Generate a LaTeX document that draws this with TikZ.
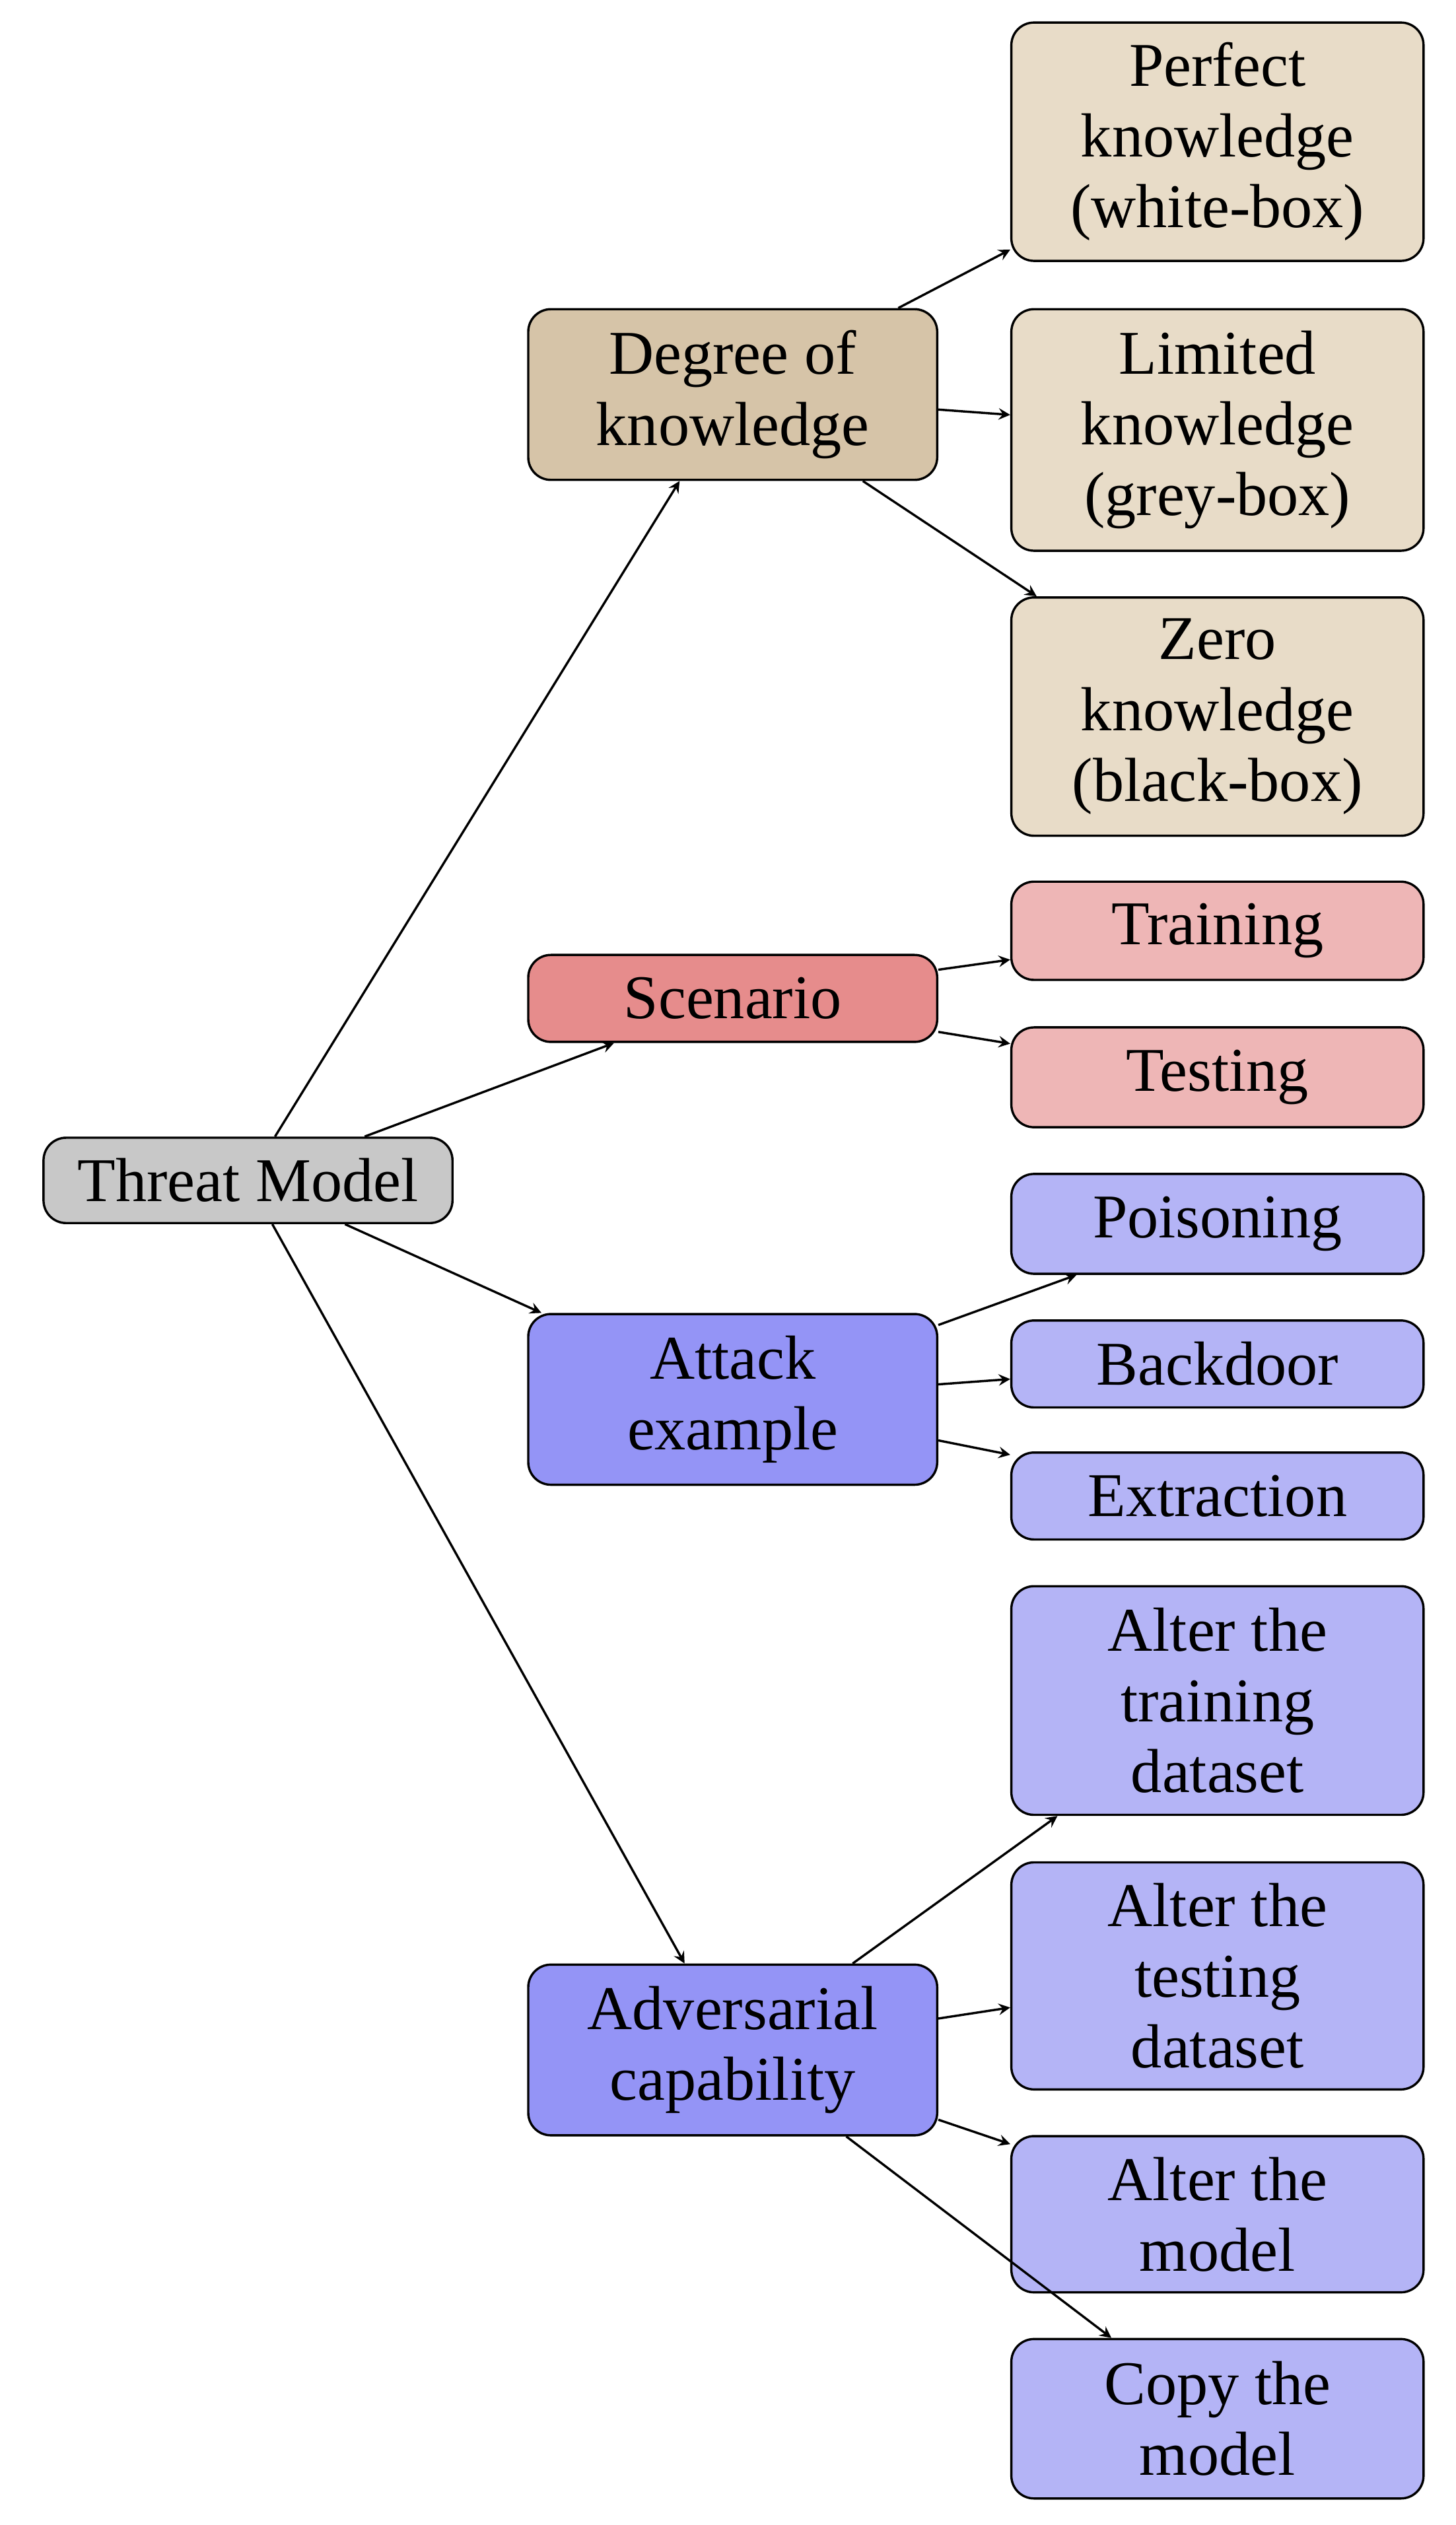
\documentclass[tikz,border=0pt]{standalone}
\usepackage{fontspec}
\setmainfont{Liberation Serif}
\begin{document}
\begin{tikzpicture}[x=0.02cm,y=-0.02cm,
  box/.style={draw=black,rounded corners=8pt,align=center,font=\fontsize{22}{25}\selectfont,inner sep=0pt,line width=0.8pt},
  mid/.style={box,minimum width=5.08cm},
  leaf/.style={box,minimum width=5.12cm},
  arr/.style={->,>=stealth,line width=0.8pt}]
\definecolor{tmc}{RGB}{200,200,200}
\definecolor{dkc}{RGB}{214,196,168}
\definecolor{dkl}{RGB}{232,220,200}
\definecolor{scc}{RGB}{230,140,140}
\definecolor{scl}{RGB}{238,182,182}
\definecolor{atc}{RGB}{148,148,246}
\definecolor{atl}{RGB}{180,180,246}
\useasboundingbox (0,0) rectangle (904,1568);
\node[box,fill=tmc,minimum width=5.08cm,minimum height=53*0.02cm] (tm) at (154,733) {Threat Model};
\node[mid,fill=dkc,minimum height=106*0.02cm] (dk) at (455,245) {Degree of\\knowledge};
\node[mid,fill=scc,minimum height=54*0.02cm] (sc) at (455,620) {Scenario};
\node[mid,fill=atc,minimum height=106*0.02cm] (at) at (455,869) {Attack\\example};
\node[mid,fill=atc,minimum height=106*0.02cm] (ac) at (455,1273) {Adversarial\\capability};
\node[leaf,fill=dkl,minimum height=148*0.02cm] (pk) at (756,88) {Perfect\\knowledge\\(white-box)};
\node[leaf,fill=dkl,minimum height=150*0.02cm] (lk) at (756,267) {Limited\\knowledge\\(grey-box)};
\node[leaf,fill=dkl,minimum height=148*0.02cm] (zk) at (756,445) {Zero\\knowledge\\(black-box)};
\node[leaf,fill=scl,minimum height=61*0.02cm] (tr) at (756,578) {Training};
\node[leaf,fill=scl,minimum height=62*0.02cm] (te) at (756,669) {Testing};
\node[leaf,fill=atl,minimum height=62*0.02cm] (po) at (756,760) {Poisoning};
\node[leaf,fill=atl,minimum height=54*0.02cm] (bd) at (756,847) {Backdoor};
\node[leaf,fill=atl,minimum height=54*0.02cm] (ex) at (756,929) {Extraction};
\node[leaf,fill=atl,minimum height=142*0.02cm] (atr) at (756,1056) {Alter the\\training\\dataset};
\node[leaf,fill=atl,minimum height=141*0.02cm] (ate) at (756,1227) {Alter the\\testing\\dataset};
\node[leaf,fill=atl,minimum height=97*0.02cm] (am) at (756,1375) {Alter the\\model};
\node[leaf,fill=atl,minimum height=99*0.02cm] (cm) at (756,1502) {Copy the\\model};
\foreach \a/\b in {tm/dk,tm/sc,tm/at,tm/ac,dk/pk,dk/lk,dk/zk,sc/tr,sc/te,at/po,at/bd,at/ex,ac/atr,ac/ate,ac/am,ac/cm}
  \draw[arr] (\a) -- (\b);
\end{tikzpicture}
\end{document}
